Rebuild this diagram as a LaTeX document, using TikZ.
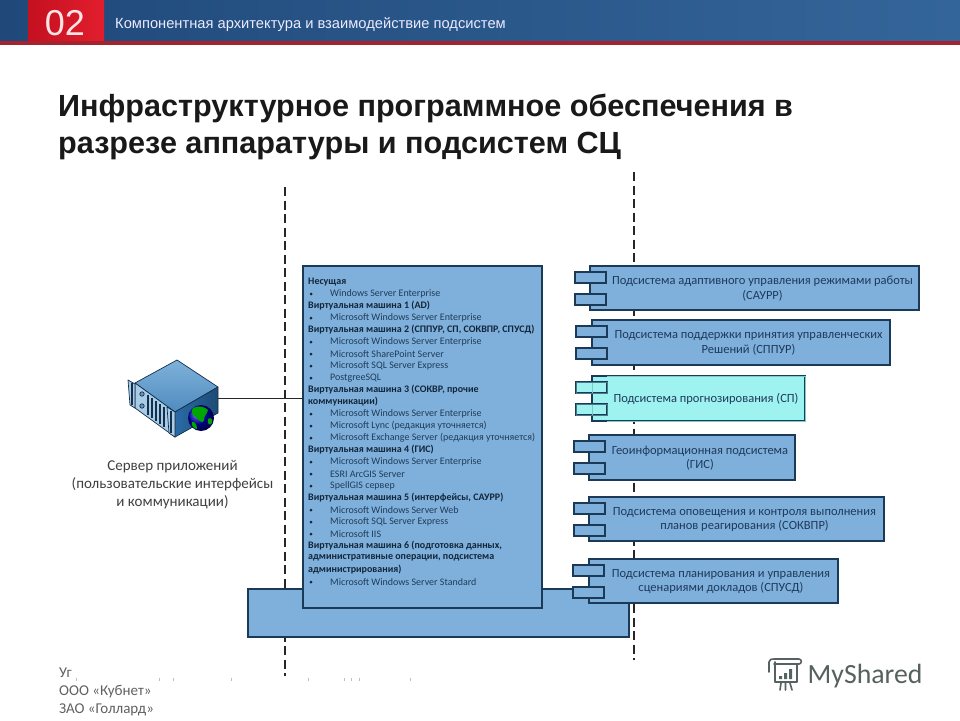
\documentclass[tikz,border=0pt]{standalone}
\usepackage{fontspec}
\setmainfont{Liberation Sans}
\newfontfamily\cali{Carlito}
\usetikzlibrary{calc}
\definecolor{boxblue}{HTML}{7FB0DC}
\definecolor{boxline}{HTML}{1B3A57}
\definecolor{cyanfill}{HTML}{9EF2F0}
\definecolor{cyanline}{HTML}{7CCBC6}
\definecolor{comptext}{HTML}{1E3A5A}
\definecolor{vmtext}{HTML}{1F3C58}
\definecolor{vmbold}{HTML}{12263A}
\definecolor{logogray}{HTML}{55625F}
\definecolor{headL}{HTML}{20497A}
\definecolor{headR}{HTML}{34659A}
\definecolor{redL}{HTML}{C4101F}
\definecolor{redR}{HTML}{E21E2E}
\definecolor{redband}{HTML}{A3232F}
\definecolor{srvtop}{HTML}{7FB2DA}
\definecolor{srvtopb}{HTML}{4F8BBF}
\definecolor{srvright}{HTML}{2A6BA6}
\definecolor{srvfront}{HTML}{A9CBE6}
\definecolor{srvline}{HTML}{12304C}
\tikzset{
  box/.style={draw=boxline,line width=1.05pt,fill=boxblue,anchor=north west,inner sep=0pt,outer sep=0pt},
  comptxt/.style={font=\cali\fontsize{12.5}{14.6}\selectfont,text=comptext,align=center,inner sep=0pt},
  vmb/.style={font=\cali\bfseries\fontsize{10}{12}\selectfont,text=vmbold,anchor=west,inner sep=0pt},
  vmi/.style={font=\cali\fontsize{10}{12}\selectfont,text=vmtext,anchor=west,inner sep=0pt},
  vmdot/.style={circle,fill=vmbold,inner sep=0pt,minimum size=3pt},
  guide/.style={draw=black!85,line width=1.2pt,dash pattern=on 9pt off 4.5pt},
  speck/.style={fill=black!25,draw=none},
  foot/.style={font=\cali\fontsize{15}{16}\selectfont,text=black!62,anchor=base west,inner sep=0pt},
  srv/.style={draw=srvline,line width=.7pt,line join=round}
}
\newcommand{\comp}[8][boxblue]{%
  \node[box,fill=#1,minimum width=#5-#3,minimum height=#6-#4] (#2) at (#3,#4) {};
  \node[box,fill=#1,minimum width=31,minimum height=11] (#2a) at (#7,#4+6) {};
  \node[box,fill=#1,minimum width=31,minimum height=11] (#2b) at (#7,#4+28) {};
  \node[comptxt] (#2t) at ({(#7+31+#5)/2},{(#4+#6)/2+.5}) {#8};
}
\newcounter{vmline}
\newcommand{\vmB}[1]{\stepcounter{vmline}\node[vmb] (vm\thevmline) at (308,{282+12*(\thevmline-1)}) {#1};}
\newcommand{\vmI}[1]{\stepcounter{vmline}\node[vmdot] (vd\thevmline) at (311,{282+12*(\thevmline-1)}) {};\node[vmi] (vm\thevmline) at (330,{282+12*(\thevmline-1)}) {#1};}
\begin{document}
\begin{tikzpicture}[x=1pt,y=-1pt]
\useasboundingbox (0,0) rectangle (960,720);
\fill[white] (0,0) rectangle (960,720);
% header
\shade[left color=headL,right color=headR] (0,0) rectangle (960,41);
\shade[left color=redL,right color=redR] (28,0) rectangle (104,41);
\fill[redband] (0,41) rectangle (960,45);
\node[font=\fontsize{36}{36}\selectfont,text=white!90!red,inner sep=0pt] (num) at (65,23.5) {02};
\node[font=\fontsize{14.7}{16}\selectfont,text=white!92!blue,anchor=base west,inner sep=0pt] (head) at (115,28) {Компонентная архитектура и взаимодействие подсистем};
% title
\node[font=\bfseries\fontsize{30.6}{36}\selectfont,text=black!90,anchor=base west,inner sep=0pt] (t1) at (58,116) {Инфраструктурное программное обеспечения в};
\node[font=\bfseries\fontsize{30.6}{36}\selectfont,text=black!90,anchor=base west,inner sep=0pt] (t2) at (58,153) {разрезе аппаратуры и подсистем СЦ};
% guides
\coordinate (g1a) at (285,187); \coordinate (g1b) at (285,676);
\coordinate (g2a) at (634,172); \coordinate (g2b) at (634,660);
\draw[guide] (g1a) -- (g1b);
\draw[guide] (g2a) -- (g2b);
% hosts
\node[box,minimum width=381,minimum height=48] (base) at (248,589) {};
\node[box,minimum width=239,minimum height=342] (vmbox) at (303,266) {};
\coordinate (srvport) at (218,398);
\draw[black!85,line width=.9pt] (srvport) -- (srvport -| vmbox.west);
\vmB{Несущая}
\vmI{Windows Server Enterprise}
\vmB{Виртуальная машина 1 (AD)}
\vmI{Microsoft Windows Server Enterprise}
\vmB{Виртуальная машина 2 (СППУР, СП, СОКВПР, СПУСД)}
\vmI{Microsoft Windows Server Enterprise}
\vmI{Microsoft SharePoint Server}
\vmI{Microsoft SQL Server Express}
\vmI{PostgreeSQL}
\vmB{Виртуальная машина 3 (СОКВР, прочие}
\vmB{коммуникации)}
\vmI{Microsoft Windows Server Enterprise}
\vmI{Microsoft Lync (редакция уточняется)}
\vmI{Microsoft Exchange Server (редакция уточняется)}
\vmB{Виртуальная машина 4 (ГИС)}
\vmI{Microsoft Windows Server Enterprise}
\vmI{ESRI ArcGIS Server}
\vmI{SpellGIS сервер}
\vmB{Виртуальная машина 5 (интерфейсы, САУРР)}
\vmI{Microsoft Windows Server Web}
\vmI{Microsoft SQL Server Express}
\vmI{Microsoft IIS}
\vmB{Виртуальная машина 6 (подготовка данных,}
\vmB{административные операции, подсистема}
\vmB{администрирования)}
\vmI{Microsoft Windows Server Standard}
% components
\comp{c1}{590}{266}{919}{310}{575}{Подсистема адаптивного управления режимами работы\\(САУРР)}
\comp{c2}{592}{320}{890}{365}{576}{Подсистема поддержки принятия управленческих\\Решений (СППУР)}
\comp[cyanfill]{c3}{592}{376}{805}{421}{576}{Подсистема прогнозирования (СП)}
\comp{c4}{589}{435}{795}{480}{574}{Геоинформационная подсистема\\(ГИС)}
\comp{c5}{589}{497}{884}{541}{574}{Подсистема оповещения и контроля выполнения\\планов реагирования (СОКВПР)}
\comp{c6}{589}{559}{838}{603}{573}{Подсистема планирования и управления\\сценариями докладов (СПУСД)}
\draw[cyanline,line width=.9pt] (c3.north west) rectangle (c3.south east);
\draw[boxline,line width=.9pt] (607,376) -- (592,376) -- (592,382) (592,393) -- (592,405) (592,416) -- (592,421) -- (607,421);
\draw[boxline!55!cyanline,line width=.8pt] (c3a.north west) rectangle (c3a.south east);
\draw[boxline!55!cyanline,line width=.8pt] (c3b.north west) rectangle (c3b.south east);
% server icon
\shade[top color=srvtop,bottom color=srvtopb,srv] (135,383) -- (177,360) -- (218,387) -- (175,412) -- cycle;
\shade[left color=srvright,right color=srvright!70!black,srv] (175,412) -- (218,387) -- (218,413) -- (175,437) -- cycle;
\fill[srvfront,srv] (135,383) -- (175,412) -- (175,437) -- (135,408) -- cycle;
\fill[srvfront,srv] (128,380) -- (135,384) -- (135,408) -- (130,405) -- cycle;
\fill[srvfront,srv] (167,407) -- (175,412) -- (175,437) -- (169,433) -- cycle;
\draw[srvline,line width=1.3pt] (132,383) -- (132,405) (171,411) -- (171,433);
\draw[srv,fill=srvright!70!white] (142,394) circle (2.2);
\draw[srv,fill=srvright!70!white] (142,406) circle (2.2);
\foreach \sx in {148,152,156,160,164} {
  \draw[srvline,line width=1.1pt] (\sx,{386+(\sx-135)*.72}) -- (\sx,{406+(\sx-135)*.72});
}
\shade[ball color=blue!70!black,draw=none] (201,418) circle (13);
\fill[green!65!black] (193,408) .. controls (199,405) and (205,407) .. (208,410) .. controls (207,415) and (203,416) .. (204,420) .. controls (203,424) and (199,421) .. (197,418) .. controls (193,416) and (190,412) .. (193,408) -- cycle;
\fill[green!65!black] (208,419) .. controls (211,417) and (213,419) .. (212,423) .. controls (210,426) and (207,425) .. (208,419) -- cycle;
\fill[green!65!black] (192,422) .. controls (195,421) and (197,425) .. (197,429) .. controls (194,429) and (191,426) .. (192,422) -- cycle;
\node[font=\cali\fontsize{15}{18}\selectfont,text=black!75,align=center,inner sep=0pt] (srvlabel) at (172.500,485) {Сервер приложений\\(пользовательские интерфейсы\\и коммуникации)};
% footer
\node[foot] (f1) at (59,677) {Уг};
\node[foot] (f2) at (59,695) {ООО «Кубнет»};
\node[foot] (f3) at (59,713) {ЗАО «Голлард»};
\foreach \px in {76,159,173,231,308,344,351,359,410} { \fill[speck] (\px,678) rectangle (\px+1,680.500); }
% logo
\begin{scope}[draw=logogray,line width=1.6pt,line cap=round,line join=round]
\draw (769,672) -- (769,662) .. controls (769,659) and (772,659) .. (774,659) -- (799,659) .. controls (802,659) and (802,664) .. (799,664) -- (774,664);
\draw (775,662) -- (775,682) -- (797,682) -- (797,664);
\draw (780,690) -- (781,683) (785.500,690) -- (785.500,683) (792,690) -- (790,683);
\end{scope}
\fill[logogray] (779,676) rectangle (782,679) (784,673) rectangle (787,679) (789,669) rectangle (792,679);
\node[font=\cali\fontsize{27.8}{30}\selectfont,text=logogray,anchor=base west,inner sep=0pt] (logo) at (807.500,683) {MyShared};
\end{tikzpicture}
\end{document}
